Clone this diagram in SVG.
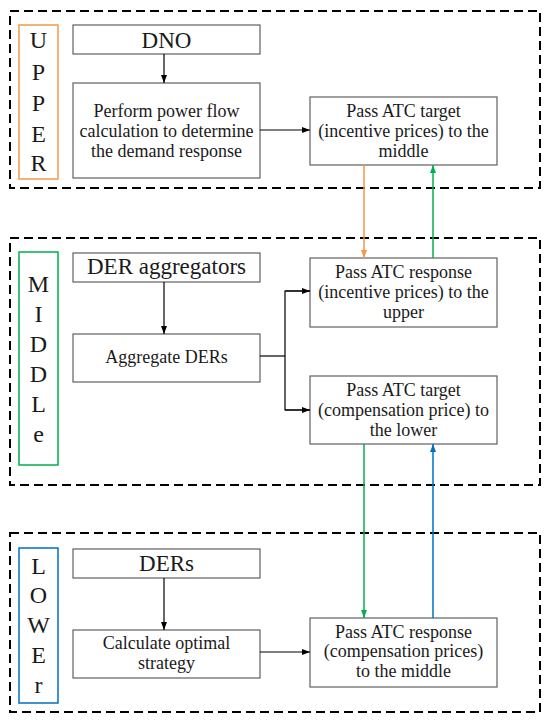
<svg xmlns="http://www.w3.org/2000/svg" width="550" height="725" viewBox="0 0 550 725">
<style>
.frame{fill:none;stroke:#000;stroke-width:2;stroke-dasharray:9,5}
.box{fill:#fff;stroke:#606060;stroke-width:1.2}
text{font-family:'Liberation Serif','DejaVu Serif',serif;fill:#1a1a1a;text-anchor:middle}
.t{font-size:18px}
.h{font-size:23px}
.lab{font-size:24px}
.k{fill:none;stroke:#000;stroke-width:1.2}
</style>
<defs>
<marker id="ak" markerWidth="8" markerHeight="6" refX="8" refY="3" orient="auto" markerUnits="userSpaceOnUse"><path d="M0,0 L8,3 L0,6 Z" fill="#000"/></marker>
<marker id="ao" markerWidth="8" markerHeight="6" refX="8" refY="3" orient="auto" markerUnits="userSpaceOnUse"><path d="M0,0 L8,3 L0,6 Z" fill="#F79646"/></marker>
<marker id="ag" markerWidth="8" markerHeight="6" refX="8" refY="3" orient="auto" markerUnits="userSpaceOnUse"><path d="M0,0 L8,3 L0,6 Z" fill="#00B050"/></marker>
<marker id="ab" markerWidth="8" markerHeight="6" refX="8" refY="3" orient="auto" markerUnits="userSpaceOnUse"><path d="M0,0 L8,3 L0,6 Z" fill="#0070C0"/></marker>
</defs>
<g id="frames">
<rect class="frame" x="10" y="11" width="530" height="177"/>
<rect class="frame" x="10" y="238" width="530" height="247"/>
<rect class="frame" x="10" y="533" width="530" height="179"/>
</g>
<g id="label-upper">
<rect x="19" y="25" width="39" height="154" fill="#fff" stroke="#F79646" stroke-width="1.5"/>
<text class="lab" x="38.5" y="48">U</text><text class="lab" x="38.5" y="80">P</text><text class="lab" x="38.5" y="111">P</text><text class="lab" x="38.5" y="142">E</text><text class="lab" x="38.5" y="171">R</text>
</g>
<g id="label-middle">
<rect x="19" y="252" width="39" height="213" fill="#fff" stroke="#00B050" stroke-width="1.5"/>
<text class="lab" x="38.5" y="292">M</text><text class="lab" x="38.5" y="322">I</text><text class="lab" x="38.5" y="352">D</text><text class="lab" x="38.5" y="382">D</text><text class="lab" x="38.5" y="412">L</text><text class="lab" x="38.5" y="442">e</text>
</g>
<g id="label-lower">
<rect x="19" y="548" width="39" height="155" fill="#fff" stroke="#0070C0" stroke-width="1.5"/>
<text class="lab" x="38.5" y="574">L</text><text class="lab" x="38.5" y="603">O</text><text class="lab" x="38.5" y="633">W</text><text class="lab" x="38.5" y="663">E</text><text class="lab" x="38.5" y="693">r</text>
</g>
<g id="dno"><rect class="box" x="73" y="25" width="187" height="29"/><text class="h" x="166.5" y="48">DNO</text></g>
<g id="perform"><rect class="box" x="73" y="83" width="187" height="95"/>
<text class="t" x="166.5" y="117">Perform power flow</text><text class="t" x="166.5" y="137">calculation to determine</text><text class="t" x="166.5" y="157">the demand response</text></g>
<g id="upper-target"><rect class="box" x="310" y="97" width="187" height="68"/>
<text class="t" x="403.5" y="117">Pass ATC target</text><text class="t" x="403.5" y="137">(incentive prices) to the</text><text class="t" x="403.5" y="157">middle</text></g>
<g id="der-agg"><rect class="box" x="73" y="253" width="187" height="29"/><text class="h" x="166.5" y="274">DER aggregators</text></g>
<g id="aggregate"><rect class="box" x="73" y="334" width="187" height="48"/><text class="t" x="166.5" y="363">Aggregate DERs</text></g>
<g id="middle-response"><rect class="box" x="310" y="258" width="187" height="69"/>
<text class="t" x="403.5" y="278">Pass ATC response</text><text class="t" x="403.5" y="298">(incentive prices) to the</text><text class="t" x="403.5" y="318">upper</text></g>
<g id="middle-target"><rect class="box" x="310" y="376" width="187" height="68"/>
<text class="t" x="403.5" y="396">Pass ATC target</text><text class="t" x="403.5" y="416">(compensation price) to</text><text class="t" x="403.5" y="436">the lower</text></g>
<g id="ders"><rect class="box" x="73" y="549" width="187" height="29"/><text class="h" x="166.5" y="571">DERs</text></g>
<g id="calculate"><rect class="box" x="73" y="630" width="187" height="48"/>
<text class="t" x="166.5" y="649">Calculate optimal</text><text class="t" x="166.5" y="669">strategy</text></g>
<g id="lower-response"><rect class="box" x="310" y="618" width="187" height="69"/>
<text class="t" x="403.5" y="638">Pass ATC response</text><text class="t" x="403.5" y="657">(compensation prices)</text><text class="t" x="403.5" y="677">to the middle</text></g>
<g id="connectors">
<line class="k" x1="164" y1="54" x2="164" y2="83" marker-end="url(#ak)"/>
<line class="k" x1="260" y1="130" x2="310" y2="130" marker-end="url(#ak)"/>
<line x1="364" y1="165" x2="364" y2="258" stroke="#F79646" stroke-width="1.5" marker-end="url(#ao)"/>
<line x1="433" y1="258" x2="433" y2="165" stroke="#00B050" stroke-width="1.5" marker-end="url(#ag)"/>
<line class="k" x1="164" y1="282" x2="164" y2="334" marker-end="url(#ak)"/>
<line class="k" x1="260" y1="356" x2="285" y2="356"/>
<polyline class="k" points="310,291 285,291 285,410 310,410"/>
<line class="k" x1="285" y1="291" x2="310" y2="291" marker-end="url(#ak)"/>
<line class="k" x1="285" y1="410" x2="310" y2="410" marker-end="url(#ak)"/>
<line x1="364" y1="444" x2="364" y2="618" stroke="#00B050" stroke-width="1.5" marker-end="url(#ag)"/>
<line x1="433" y1="618" x2="433" y2="444" stroke="#0070C0" stroke-width="1.5" marker-end="url(#ab)"/>
<line class="k" x1="164" y1="578" x2="164" y2="630" marker-end="url(#ak)"/>
<line class="k" x1="260" y1="652" x2="310" y2="652" marker-end="url(#ak)"/>
</g>
</svg>
